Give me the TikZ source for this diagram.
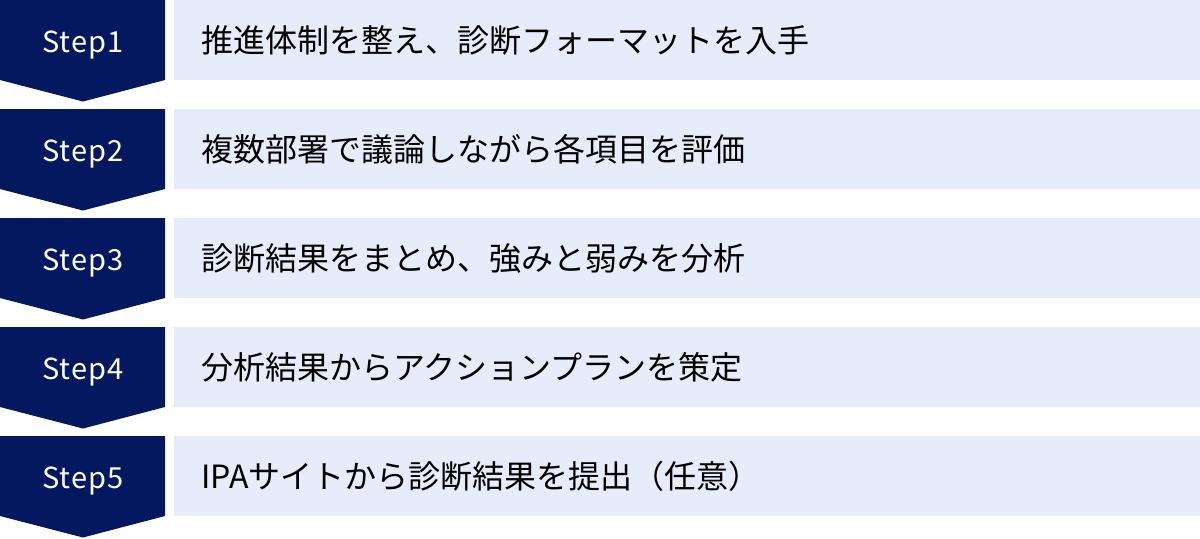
\documentclass[tikz,border=0pt]{standalone}
\usepackage{fontspec}
\setmainfont{Noto Sans CJK JP}
\newfontfamily\steplabelfont[LetterSpace=4]{Noto Sans CJK JP}
\definecolor{navy}{HTML}{03185F}
\definecolor{paleblue}{HTML}{E6ECF9}
\tikzset{
  stepshape/.style={fill=navy, draw=none},
  textbox/.style={fill=paleblue, draw=none, minimum width=513pt, minimum height=40pt, inner sep=0pt, anchor=north west},
  steplabel/.style={text=white, font=\steplabelfont\fontsize{14.5pt}{17pt}\selectfont, inner sep=0pt, anchor=base},
  itemtext/.style={text=black, font=\fontsize{16pt}{19pt}\selectfont, anchor=west, inner sep=0pt}
}
\begin{document}
\begin{tikzpicture}[x=0.5pt,y=-0.5pt]
\useasboundingbox (0,0) rectangle (1200,538);
\foreach \i/\lab/\txt in {
  0/Step1/推進体制を整え、診断フォーマットを入手,
  1/Step2/複数部署で議論しながら各項目を評価,
  2/Step3/診断結果をまとめ、強みと弱みを分析,
  3/Step4/分析結果からアクションプランを策定,
  4/Step5/IPAサイトから診断結果を提出（任意）}{
  \pgfmathsetmacro{\yy}{109*\i}
  \fill[stepshape] (0,\yy) -- (165,\yy) -- (165,\yy+80) -- (83,\yy+101.5) -- (0,\yy+80) -- cycle;
  \node[textbox] (box\i) at (174,\yy) {};
  \node[steplabel] (lab\i) at (83,\yy+52) {\lab};
  \node[itemtext] (txt\i) at (201,\yy+40) {\txt};
}
\end{tikzpicture}
\end{document}
